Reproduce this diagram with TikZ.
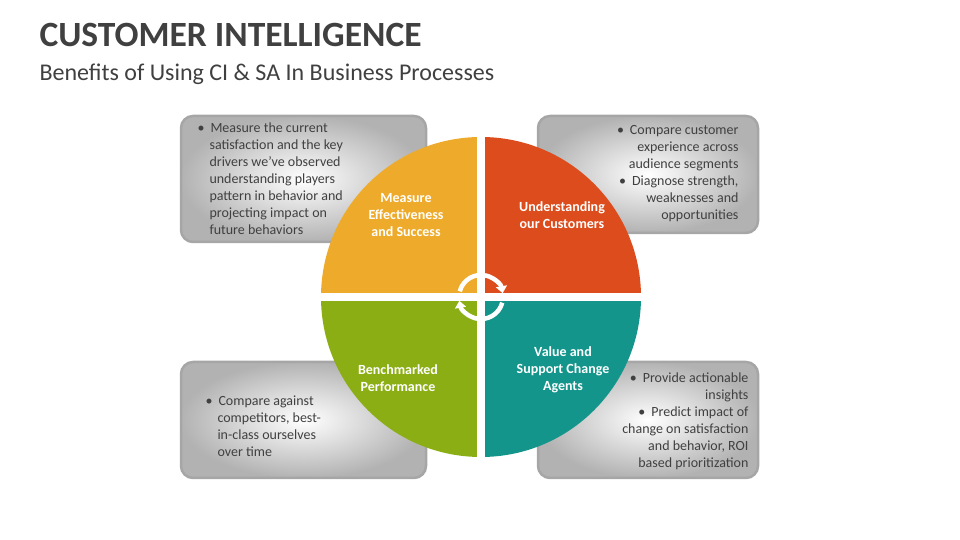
\documentclass[tikz,border=0pt]{standalone}
\usepackage{fontspec}
\setmainfont{Carlito}
\usetikzlibrary{arrows.meta}
\definecolor{corange}{HTML}{EEAA2A}
\definecolor{cred}{HTML}{DD4C1C}
\definecolor{cgreen}{HTML}{8AAE13}
\definecolor{cteal}{HTML}{13958B}
\definecolor{ctext}{HTML}{404040}
\definecolor{cbord}{HTML}{A6A6A6}
\begin{document}
\begin{tikzpicture}[x=1pt,y=1pt,
  infobox/.style={draw=cbord,line width=2.5pt,rounded corners=12pt,inner color=white,outer color=black!30},
  btext/.style={font=\fontsize{14}{17}\selectfont,text=ctext,align=left},
  stext/.style={font=\fontsize{14}{17}\selectfont\bfseries,text=white,align=center}]
\useasboundingbox (0,0) rectangle (960,540);
\node[anchor=west,font=\fontsize{35.5}{38}\selectfont\bfseries,text=ctext] (title) at (36,505) {CUSTOMER INTELLIGENCE};
\node[anchor=west,font=\fontsize{24}{28}\selectfont,text=ctext] (sub) at (36,466) {Benefits of Using CI \& SA In Business Processes};
% boxes
\path[infobox] (181,424) rectangle (426,298);
\path[infobox] (538,424) rectangle (758,307);
\path[infobox] (181,178) rectangle (426,62);
\path[infobox] (538,178) rectangle (758,62);
% sectors
\coordinate (c) at (481,243);
\fill[corange] (c) -- ++(-160,0) arc[start angle=180,end angle=90,radius=160] -- cycle;
\fill[cred] (c) -- ++(0,160) arc[start angle=90,end angle=0,radius=160] -- cycle;
\fill[cteal] (c) -- ++(160,0) arc[start angle=0,end angle=-90,radius=160] -- cycle;
\fill[cgreen] (c) -- ++(0,-160) arc[start angle=-90,end angle=-180,radius=160] -- cycle;
\draw[white,line width=8pt] (481,405) -- (481,81);
\draw[white,line width=8pt] (319,243) -- (643,243);
% arrows
\draw[white,line width=4.5pt,-{Triangle[length=7pt,width=11pt]}] ([shift={(165:22)}]c) arc[start angle=165,end angle=10,radius=22];
\draw[white,line width=4.5pt,-{Triangle[length=7pt,width=11pt]}] ([shift={(-15:22)}]c) arc[start angle=-15,end angle=-170,radius=22];
% texts
\node[btext,anchor=north west] (t1) at (194,421) {\textbullet\hspace{6pt}Measure the current\\\hspace{12pt}satisfaction and the key\\\hspace{12pt}drivers we've observed\\\hspace{12pt}understanding players\\\hspace{12pt}pattern in behavior and\\\hspace{12pt}projecting impact on\\\hspace{12pt}future behaviors};
\node[btext,align=right,anchor=north east] (t2) at (742,418) {\textbullet\hspace{6pt}Compare customer\\experience across\\audience segments\\\textbullet\hspace{6pt}Diagnose strength,\\weaknesses and\\opportunities};
\node[btext,anchor=north west] (t3) at (202,148) {\textbullet\hspace{6pt}Compare against\\\hspace{12pt}competitors, best-\\\hspace{12pt}in-class ourselves\\\hspace{12pt}over time};
\node[btext,align=right,anchor=north east] (t4) at (752,171) {\textbullet\hspace{6pt}Provide actionable\\insights\\\textbullet\hspace{6pt}Predict impact of\\change on satisfaction\\and behavior, ROI\\based prioritization};
\node[stext] (s1) at (406,325) {Measure\\Effectiveness\\and Success};
\node[stext] (s2) at (562,325) {Understanding\\our Customers};
\node[stext] (s3) at (398,162) {Benchmarked\\Performance};
\node[stext] (s4) at (563,170) {Value and\\Support Change\\Agents};
\end{tikzpicture}
\end{document}
